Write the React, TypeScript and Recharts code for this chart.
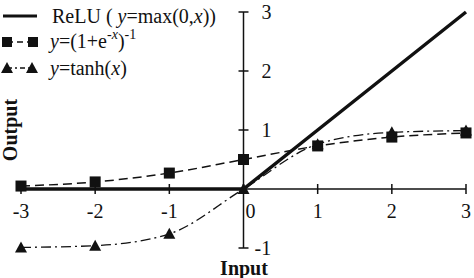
import { LineChart, Line, XAxis, YAxis, ReferenceLine, ReferenceDot } from 'recharts';

const xValues = [-3, -2, -1, 0, 1, 2, 3];
const reluValues = [0, 0, 0, 0, 1, 2, 3];
const sigmoidValues = [0.05, 0.12, 0.27, 0.5, 0.73, 0.88, 0.95];
const tanhValues = [-0.99, -0.96, -0.76, 0, 0.76, 0.96, 0.99];
const xTicks = [-3, -2, -1, 0, 1, 2, 3];
const yTicks = [-1, 1, 2, 3];
const xLabel = 'Input';
const yLabel = 'Output';

const data = xValues.map((x, i) => ({
  x,
  relu: reluValues[i],
  sigmoid: sigmoidValues[i],
  tanh: tanhValues[i]
}));

const FONT = "'Liberation Serif', 'DejaVu Serif', serif";
const INK = '#111';
const textStyle = { fontFamily: FONT, fontSize: 20 };

const Square = (p: any) => {
  if (p.cx == null || p.cy == null) return <g key={p.index} />;
  return <rect key={p.index} x={p.cx - 5.5} y={p.cy - 5.5} width={11} height={11} fill={INK} />;
};

const Triangle = (p: any) => {
  if (p.cx == null || p.cy == null) return <g key={p.index} />;
  const { cx, cy } = p;
  return <polygon key={p.index} points={`${cx},${cy - 6} ${cx - 6},${cy + 5} ${cx + 6},${cy + 5}`} fill={INK} />;
};

const xTick = (v: number) => (p: any) => (
  <g>
    <line x1={p.cx} x2={p.cx} y1={p.cy - 5} y2={p.cy + 5} stroke={INK} strokeWidth={1.5} />
    <text x={p.cx + (v === 0 ? 7 : 0)} y={p.cy + 29} textAnchor="middle" style={textStyle} fill={INK}>
      {v}
    </text>
  </g>
);

const yTick = (v: number) => (p: any) => (
  <g>
    <line x1={p.cx - 5} x2={p.cx + 5} y1={p.cy} y2={p.cy} stroke={INK} strokeWidth={1.5} />
    <text x={p.cx + (v < 0 ? 11 : 18)} y={p.cy + 7} textAnchor="start" style={textStyle} fill={INK}>
      {v}
    </text>
  </g>
);

const Overlay = () => (
  <svg width={474} height={278} style={{ position: 'absolute', left: 0, top: 0, pointerEvents: 'none' }}>
    <g style={textStyle} fill={INK}>
      {/* ReLU */}
      <line x1={3} x2={37} y1={16} y2={16} stroke={INK} strokeWidth={3} />
      <text x={52} y={23}>
        ReLU ( <tspan fontStyle="italic">y</tspan>=max(0,<tspan fontStyle="italic">x</tspan>))
      </text>
      {/* sigmoid */}
      <line x1={7} x2={33} y1={42} y2={42} stroke={INK} strokeWidth={1.5} strokeDasharray="6 4" />
      <rect x={2} y={37} width={10} height={10} fill={INK} />
      <rect x={28} y={37} width={10} height={10} fill={INK} />
      <text x={50} y={48}>
        <tspan fontStyle="italic">y</tspan>=(1+e
        <tspan fontSize={14} dy={-9}>-</tspan>
        <tspan fontSize={14} fontStyle="italic">x</tspan>
        <tspan dy={9}>)</tspan>
        <tspan fontSize={14} dy={-9}>-1</tspan>
      </text>
      {/* tanh */}
      <line x1={7} x2={33} y1={68} y2={68} stroke={INK} strokeWidth={1.5} strokeDasharray="5 3 2 3" />
      <polygon points="7,62 1,73 13,73" fill={INK} />
      <polygon points="32,62 26,73 38,73" fill={INK} />
      <text x={50} y={75}>
        <tspan fontStyle="italic">y</tspan>=tanh(<tspan fontStyle="italic">x</tspan>)
      </text>
      {/* axis titles */}
      <text x={244} y={275} textAnchor="middle" fontWeight="bold">{xLabel}</text>
      <text x={17} y={130} textAnchor="middle" fontWeight="bold" transform="rotate(-90 17 130)">{yLabel}</text>
    </g>
  </svg>
);

export default function App() {
  return (
    <div style={{ position: 'absolute', left: 0, top: 0, width: 474, height: 278, background: '#fff' }}>
      <LineChart width={474} height={278} data={data} margin={{ top: 12, right: 8, bottom: 30, left: 21 }}>
        <XAxis type="number" dataKey="x" domain={[-3, 3]} hide />
        <YAxis type="number" domain={[-1, 3]} hide />
        <ReferenceLine y={0} stroke={INK} strokeWidth={1.5} />
        <ReferenceLine x={0} stroke={INK} strokeWidth={1.5} />
        {xTicks.map((v) => (
          <ReferenceDot key={`x${v}`} x={v} y={0} r={5} shape={xTick(v)} />
        ))}
        {yTicks.map((v) => (
          <ReferenceDot key={`y${v}`} x={0} y={v} r={5} shape={yTick(v)} />
        ))}
        <Line dataKey="relu" type="linear" stroke={INK} strokeWidth={3.5} dot={false} isAnimationActive={false} />
        <Line
          dataKey="sigmoid"
          type="monotone"
          stroke={INK}
          strokeWidth={1.5}
          strokeDasharray="9 5"
          dot={Square}
          isAnimationActive={false}
        />
        <Line
          dataKey="tanh"
          type="monotone"
          stroke={INK}
          strokeWidth={1.3}
          strokeDasharray="10 4 2 4"
          dot={Triangle}
          isAnimationActive={false}
        />
      </LineChart>
      <Overlay />
    </div>
  );
}
